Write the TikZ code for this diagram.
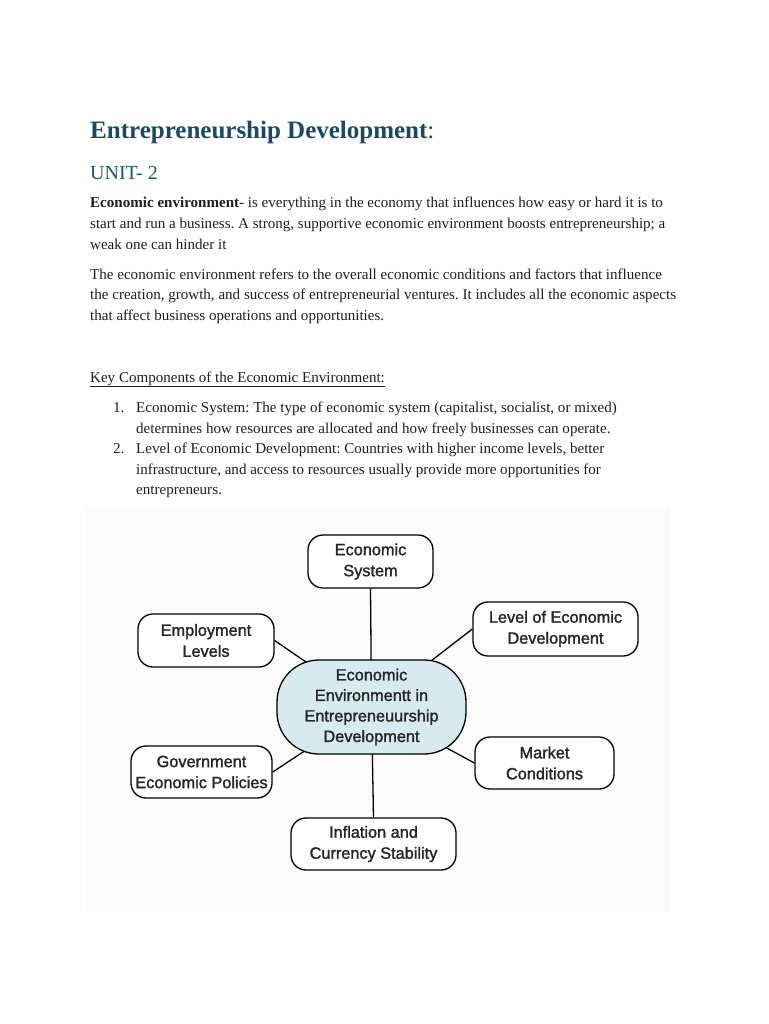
\documentclass[tikz,border=0pt]{standalone}
\usepackage{fontspec}
\setmainfont{Liberation Serif}
\newfontfamily\diagfont{Liberation Sans}[FakeBold=1.6]

\definecolor{headblue}{RGB}{24,74,102}
\definecolor{unitblue}{RGB}{33,86,116}
\definecolor{hubfill}{RGB}{214,234,240}
\definecolor{picback}{RGB}{251,251,251}
\definecolor{bodyink}{RGB}{30,30,30}

\pgfdeclarelayer{back}
\pgfdeclarelayer{links}
\pgfsetlayers{back,links,main}

\begin{document}
\frenchspacing
\begin{tikzpicture}[x=1pt,y=-1pt,
    line/.style={anchor=base west, inner sep=0pt, text=bodyink, font=\fontsize{15.05}{18}\selectfont},
    topic/.style={draw, line width=1.3pt, rounded corners=15pt, fill=white, align=center, inner sep=0pt,
                  text=black!85, font=\diagfont\fontsize{16.3}{21}\selectfont},
    hub/.style={topic, rounded corners=42pt, fill=hubfill, font=\diagfont\fontsize{16.3}{20.5}\selectfont},
    link/.style={line width=1.3pt}]
    % Fix the page
    \useasboundingbox (0,0) rectangle (768,1024);

    % Draw the heading
    \node[line] (title) at (90,139) {\fontsize{25}{30}\selectfont\color{headblue}\textbf{Entrepreneurship Development}:};
    \node[line] (unit) at (90,180) {\fontsize{20}{24}\selectfont\color{unitblue}UNIT- 2};

    % First paragraph
    \node[line] (p1a) at (90,208) {\textbf{Economic environment}- is everything in the economy that influences how easy or hard it is to};
    \node[line] (p1b) at (90,228.5) {start and run a business. A strong, supportive economic environment boosts entrepreneurship; a};
    \node[line] (p1c) at (90,249) {weak one can hinder it};

    % Second paragraph
    \node[line] (p2a) at (90,279) {The economic environment refers to the overall economic conditions and factors that influence};
    \node[line] (p2b) at (90,299.5) {the creation, growth, and success of entrepreneurial ventures. It includes all the economic aspects};
    \node[line] (p2c) at (90,320) {that affect business operations and opportunities.};

    % Key components and the list
    \node[line] (keys) at (90,382) {\underline{Key Components of the Economic Environment:}};
    \node[line] (num1) at (113,412.5) {1.};
    \node[line] (k1a) at (136,412.5) {Economic System: The type of economic system (capitalist, socialist, or mixed)};
    \node[line] (k1b) at (136,433) {determines how resources are allocated and how freely businesses can operate.};
    \node[line] (num2) at (113,453.5) {2.};
    \node[line] (k2a) at (136,453.5) {Level of Economic Development: Countries with higher income levels, better};
    \node[line] (k2b) at (136,474) {infrastructure, and access to resources usually provide more opportunities for};
    \node[line] (k2c) at (136,494.5) {entrepreneurs.};

    % Background of the diagram
    \begin{pgfonlayer}{back}
        \fill[picback] (85,507) rectangle (670,912);
    \end{pgfonlayer}

    % Draw the hub and the factors round it
    \node[hub, minimum width=189pt, minimum height=94pt] (hub) at (371.5,707)
        {Economic\\Environmentt in\\Entrepreneuurship\\Development};
    \node[topic, minimum width=125pt, minimum height=53pt] (esys) at (370.5,561.5) {Economic\\System};
    \node[topic, minimum width=165pt, minimum height=54pt] (level) at (555.5,629) {Level of Economic\\Development};
    \node[topic, minimum width=136pt, minimum height=53pt] (employ) at (206,640.5) {Employment\\Levels};
    \node[topic, minimum width=141pt, minimum height=52pt] (govt) at (201.5,772) {Government\\Economic Policies};
    \node[topic, minimum width=139pt, minimum height=52pt] (market) at (544.5,763) {Market\\Conditions};
    \node[topic, minimum width=165pt, minimum height=52pt] (inflate) at (373.5,844) {Inflation and\\Currency Stability};

    % Connect the hub to each factor
    \begin{pgfonlayer}{links}
        \draw[link] (hub.center) -- (esys.south);
        \draw[link] (hub.center) -- (level.west);
        \draw[link] (hub.center) -- (employ.east);
        \draw[link] (hub.center) -- (govt.east);
        \draw[link] (hub.center) -- (market.west);
        \draw[link] (hub.center) -- (inflate.north);
    \end{pgfonlayer}
\end{tikzpicture}
\end{document}
